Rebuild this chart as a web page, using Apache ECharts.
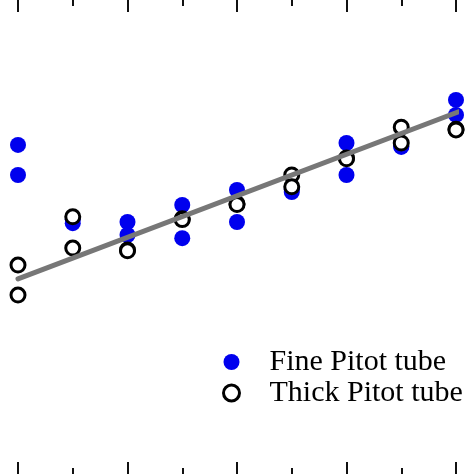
<!DOCTYPE html>
<html>
<head>
<meta charset="utf-8">
<script src="https://cdn.jsdelivr.net/npm/echarts@6/dist/echarts.min.js"></script>
<style>html,body{margin:0;padding:0;background:#fff}#c{width:474px;height:474px}</style>
</head>
<body>
<div id="c"></div>
<script>
// x positions (measurement stations)
var stations = [0, 1, 2, 3, 4, 5, 6, 7, 8];
// Fine Pitot tube, two runs per station
var fineRun1 = [8.33, 6.35, 6.38, 6.81, 7.19, 7.14, 8.38, 8.28, 9.47];
var fineRun2 = [7.57, 6.45, 6.05, 5.97, 6.38, 7.20, 7.57, 8.30, 9.09];
// Thick Pitot tube, two runs per station
var thickRun1 = [5.29, 6.51, 5.67, 6.46, 6.84, 7.57, 8.00, 8.78, 8.73];
var thickRun2 = [4.53, 5.72, 5.65, 6.44, 6.82, 7.27, 7.98, 8.38, 8.71];
// Linear fit endpoints
var fitX = [0, 8.33];
var fitY = [4.94, 9.32];
var seriesNames = ['Fine Pitot tube', 'Thick Pitot tube'];

function pairs(xs, a, b) {
  var out = [];
  for (var i = 0; i < xs.length; i++) { out.push([xs[i], a[i]]); out.push([xs[i], b[i]]); }
  return out;
}
var fitData = fitX.map(function (x, i) { return [x, fitY[i]]; });

var tickStyle = { color: '#111', width: 2 };
function xAxisDef(pos) {
  return {
    type: 'value', position: pos, min: 0, max: 8, interval: 2,
    axisLine: { show: false },
    axisLabel: { show: false },
    splitLine: { show: false },
    axisTick: { show: true, inside: true, length: 12, lineStyle: tickStyle },
    minorTick: { show: true, splitNumber: 2, length: 6, lineStyle: tickStyle },
    minorSplitLine: { show: false }
  };
}

var chart = echarts.init(document.getElementById('c'), null, { renderer: 'canvas' });
chart.setOption({
  animation: false,
  backgroundColor: '#fff',
  grid: { left: 18, right: 18, top: 0, bottom: 0, containLabel: false },
  xAxis: [xAxisDef('bottom'), xAxisDef('top')],
  yAxis: { type: 'value', min: 0, max: 12, show: false },
  legend: {
    orient: 'vertical', left: 217, top: 341.5,
    itemWidth: 66, itemHeight: 16, itemGap: 0,
    textStyle: { fontFamily: 'Liberation Serif', fontSize: 30, color: '#000', lineHeight: 31, padding: [0, 0, 0, 0] },
    data: [
      { name: seriesNames[0] },
      { name: seriesNames[1], itemStyle: { color: '#fff', borderColor: '#000', borderWidth: 3 } }
    ]
  },
  series: [
    {
      name: seriesNames[0], type: 'scatter', xAxisIndex: 0,
      symbol: 'circle', symbolSize: 16,
      itemStyle: { color: '#0000ee', opacity: 1 },
      data: pairs(stations, fineRun1, fineRun2), z: 2
    },
    {
      name: seriesNames[1], type: 'scatter', xAxisIndex: 0,
      symbol: 'circle', symbolSize: 14,
      itemStyle: { color: '#fff', borderColor: '#000', borderWidth: 3, opacity: 1 },
      data: pairs(stations, thickRun1, thickRun2), z: 3
    },
    {
      name: 'fit', type: 'line', xAxisIndex: 0, clip: false,
      showSymbol: false, symbol: 'none',
      lineStyle: { color: '#777', width: 5, cap: 'round' },
      data: fitData, z: 4
    }
  ]
});
</script>
</body>
</html>
